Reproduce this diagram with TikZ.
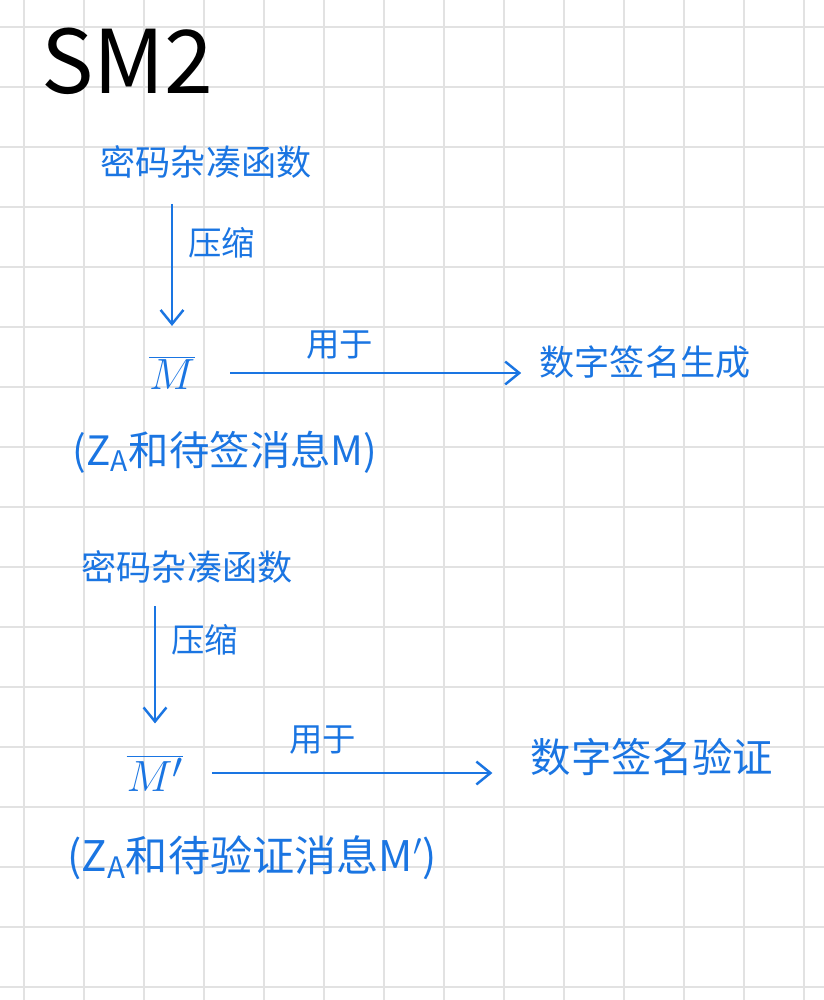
\documentclass[tikz,border=0pt]{standalone}
\usepackage{fontspec}
\setmainfont{Noto Sans CJK SC}
\usepackage{tikz}
\usetikzlibrary{positioning, arrows.meta}
\definecolor{ink}{RGB}{26,117,226}
\definecolor{gridgray}{RGB}{226,226,226}
\tikzstyle{title} = [inner sep=0pt, text=black, font=\fontsize{50}{50}\selectfont]
\tikzstyle{word} = [inner sep=0pt, text=ink, font=\fontsize{20}{20}\selectfont]
\tikzstyle{bigword} = [inner sep=0pt, text=ink, font=\fontsize{23}{23}\selectfont]
\tikzstyle{small} = [inner sep=0pt, text=ink, font=\fontsize{19}{19}\selectfont]
\tikzstyle{note} = [inner sep=0pt, text=ink, font=\fontsize{23}{23}\selectfont]
\tikzstyle{sym} = [inner sep=0pt, text=ink, font=\fontsize{31}{31}\selectfont]
\tikzstyle{arrow} = [ink, line width=1.4pt, -{Straight Barb[length=8pt, width=13pt]}]
\def\gap{0.45cm}

\begin{document}
\begin{tikzpicture}[node distance=3cm]
\fill[white] (0,0) rectangle (16.48,-20);
\useasboundingbox (0,0) rectangle (16.48,-20);
% grid paper
\foreach \x in {0,...,13}
  \draw[gridgray, line width=1.2pt] ({0.48+1.2*\x},0) -- ++(0,-20);
\foreach \y in {0,...,16}
  \draw[gridgray, line width=1.2pt] (0,{-0.54-1.2*\y}) -- ++(16.48,0);

\node (sm2) [title] at (2.55,-1.22) {SM2};

% signing
\node (hash1) [word, below of=sm2, yshift=0.98cm, xshift=1.57cm] {密码杂凑函数};
\node (mbar1) [sym, below of=hash1, yshift=-1.22cm, xshift=-0.68cm] {$\overline{M}$};
\draw [arrow, shorten <=0.5cm, shorten >=0.6cm] (hash1.south -| mbar1.north) -- node[small, pos=0.36, right=0.3cm] {压缩} (mbar1.north);

\node (sign1) [word, right of=mbar1, yshift=0.22cm, xshift=6.46cm] {数字签名生成};
\draw [arrow, shorten <=0.7cm, shorten >=0.36cm] (mbar1.east) -- node[small, pos=0.42, above=7pt] {用于} (mbar1.east -| sign1.west);

\node (za1) [note, below of=mbar1, yshift=1.42cm, xshift=1.06cm] {(Z\textsubscript{A}和待签消息M)};

% verifying
\node (hash2) [word, below of=za1, yshift=0.7cm, xshift=-0.76cm] {密码杂凑函数};
\node (mbar2) [sym, below of=hash2, yshift=-1.12cm, xshift=-0.64cm] {$\overline{M'}$};
\draw [arrow, shorten <=\gap, shorten >=0.62cm] (hash2.south -| mbar2.north) -- node[small, pos=0.33, right=0.3cm] {压缩} (mbar2.north);

\node (sign2) [bigword, right of=mbar2, yshift=0.32cm, xshift=6.94cm] {数字签名验证};
\draw [arrow, shorten <=0.56cm, shorten >=0.76cm] (mbar2.east) -- node[small, pos=0.4, above=10pt] {用于} (mbar2.east -| sign2.west);

\node (za2) [note, below of=mbar2, yshift=1.3cm, xshift=1.94cm, font=\fontsize{24}{24}\selectfont] {(Z\textsubscript{A}和待验证消息M$'$)};
\end{tikzpicture}
\end{document}
